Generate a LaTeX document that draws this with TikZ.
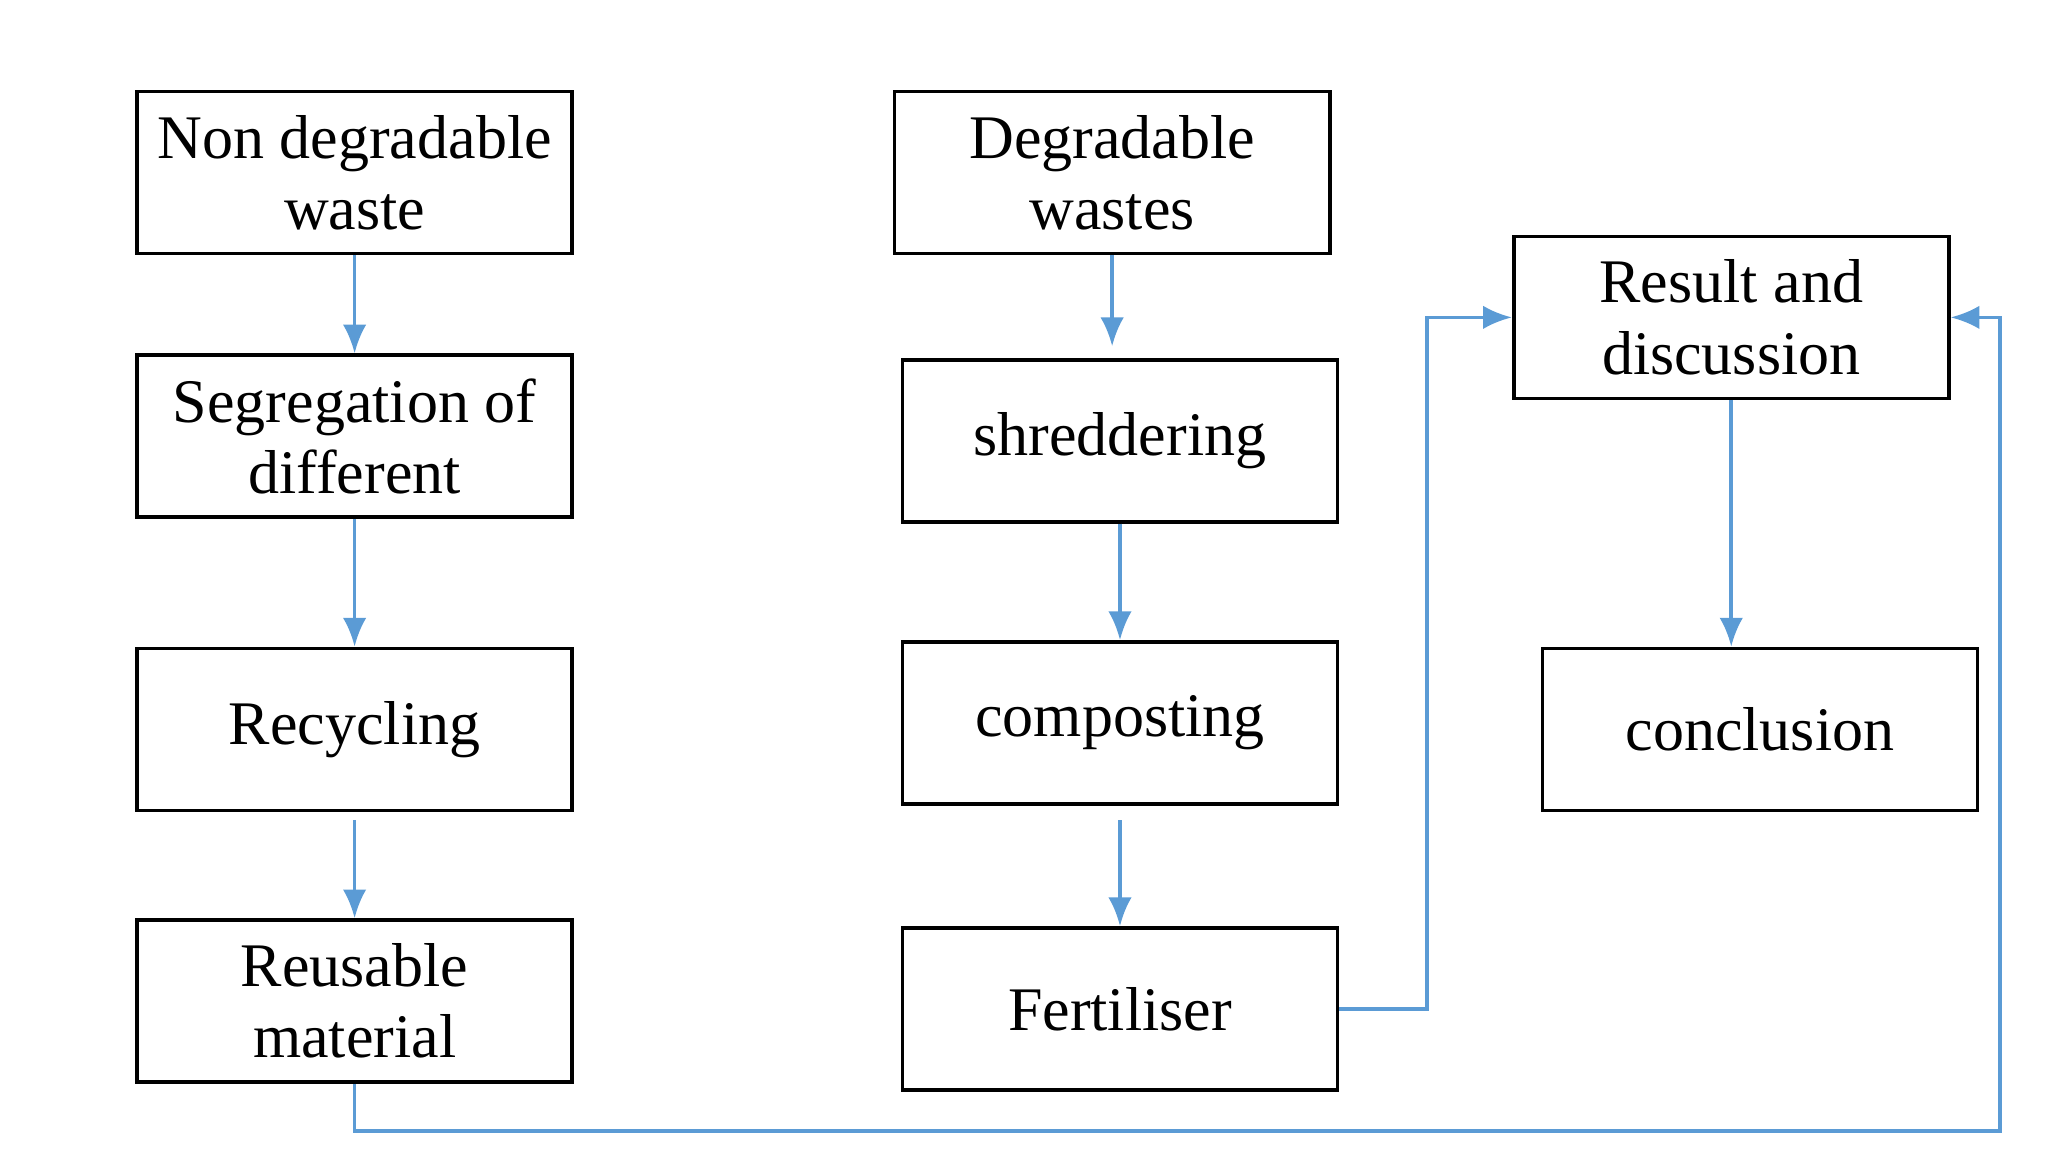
\documentclass[tikz,border=0pt]{standalone}
\usepackage{fontspec}
\setmainfont{Liberation Serif}
\usetikzlibrary{arrows.meta}
\definecolor{linkblue}{RGB}{91,155,213}
\tikzset{
    box/.style={draw, thick, minimum width=3.33cm, minimum height=1.24cm, align=center,
        font=\fontsize{13.5pt}{15.5pt}\selectfont},
    link/.style={draw=linkblue, thick, -{Latex[length=2.2mm,width=1.8mm]}}
}
\begin{document}
\begin{tikzpicture}[x=0.01cm, y=-0.01cm]
        \useasboundingbox (0, 0) rectangle (1568, 882);

        \node [box] (A1) at (271.5, 132) {Non degradable\\waste};
        \node [box] (A2) at (271.5, 334) {Segregation of\\different};
        \node [box] (A3) at (271.5, 558.5) {Recycling};
        \node [box] (A4) at (271.5, 766.5) {Reusable\\material};

        \node [box] (B1) at (851.5, 132) {Degradable\\wastes};
        \node [box] (B2) at (857.5, 337.5) {shreddering};
        \node [box] (B3) at (857.5, 553.5) {composting};
        \node [box] (B4) at (857.5, 772.5) {Fertiliser};

        \node [box] (C1) at (1325.5, 243) {Result and\\discussion};
        \node [box] (C2) at (1347.5, 558.5) {conclusion};

        \coordinate (P1) at (1531, 866);

        \draw [link] (A1) -- (A2);
        \draw [link] (A2) -- (A3);
        \draw [link] ([yshift=-0.06cm]A3.south) -- (A4);
        \draw [link] (B1) -- ([yshift=0.09cm]B2.north -| B1.south);
        \draw [link] (B2) -- (B3);
        \draw [link] ([yshift=-0.11cm]B3.south) -- (B4);
        \draw [link] (B4.east) -- ++(67, 0) |- (C1.west);
        \draw [link] (A4.south) |- (P1) |- (C1.east);
        \draw [link] (C1.south) -- (C1.south |- C2.north);
    \end{tikzpicture}
\end{document}
